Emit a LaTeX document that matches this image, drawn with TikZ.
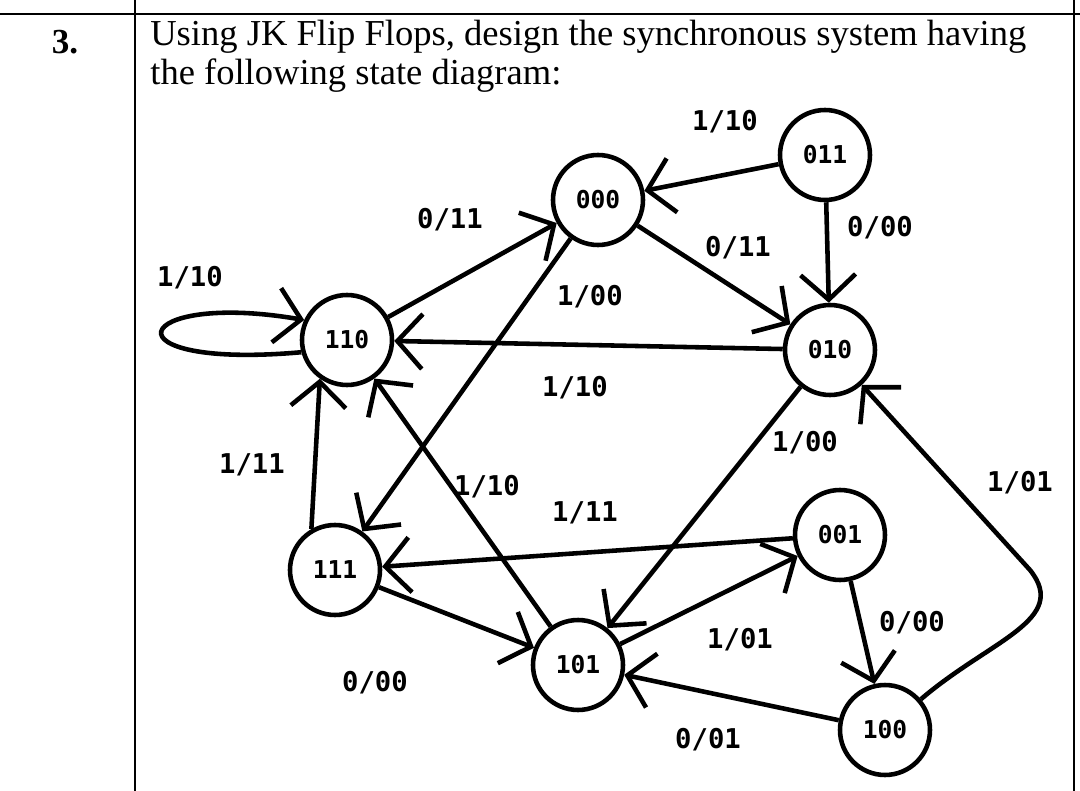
\documentclass[tikz,border=0pt]{standalone}
\usepackage{fontspec}
\setmainfont{Liberation Serif}
\newfontfamily\lbl{DejaVu Sans Mono}
\usetikzlibrary{arrows.meta}
\begin{document}
\begin{tikzpicture}[x=0.02cm,y=-0.02cm,
  st/.style={circle,draw,line width=2.6pt,minimum size=1.8cm,inner sep=0pt,font=\lbl\bfseries\fontsize{14}{14}\selectfont},
  ed/.style={line width=2.6pt,-{Straight Barb[length=5mm,width=11mm,line width=2.6pt]}},
  lb/.style={font=\lbl\bfseries\fontsize{15.5}{15.5}\selectfont,inner sep=1pt}]
\useasboundingbox (0,0) rectangle (1080,791);
\draw[line width=1pt] (0,14) -- (1080,14);
\draw[line width=1pt] (135,0) -- (135,791);
\draw[line width=1pt] (1074,0) -- (1074,791);
\node[font=\bfseries\fontsize{20}{20}\selectfont] (n3) at (65,42) {3.};
\node[anchor=north west,align=left,font=\fontsize{20.8}{22}\selectfont,inner sep=0pt] (hd) at (150,20) {Using JK Flip Flops, design the synchronous system having\\the following state diagram:};
\node[st] (s000) at (598,200) {000};
\node[st] (s011) at (825,155) {011};
\node[st] (s110) at (347,340) {110};
\node[st] (s010) at (830,350) {010};
\node[st] (s111) at (335,570) {111};
\node[st] (s001) at (840,535) {001};
\node[st] (s101) at (578,665) {101};
\node[st] (s100) at (885,730) {100};
\draw[ed] (s011) -- (s000);
\draw[ed] (s000) -- (s010);
\draw[ed] (s011) -- (s010);
\draw[ed] (s110) -- (s000);
\draw[ed] (s110.195) .. controls (100,370) and (130,290) .. (s110.155);
\draw[ed] (s000) -- (s111);
\draw[ed] (s010) -- (s110);
\draw[ed] (s010) -- (s101);
\draw[ed] (s111.120) -- (s110.235);
\draw[ed] (s101) -- (s110);
\draw[ed] (s001) -- (s111);
\draw[ed] (s111) -- (s101);
\draw[ed] (s101) -- (s001);
\draw[ed] (s001) -- (s100);
\draw[ed] (s100) .. controls (990,640) and (1070,620) .. (1030,570) -- (s010);
\draw[ed] (s100) -- (s101);
\node[lb] (l1) at (725,122) {1/10};
\node[lb] (l2) at (738,248) {0/11};
\node[lb] (l3) at (880,228) {0/00};
\node[lb] (l4) at (450,220) {0/11};
\node[lb] (l5) at (190,278) {1/10};
\node[lb] (l6) at (590,297) {1/00};
\node[lb] (l7) at (575,388) {1/10};
\node[lb] (l8) at (805,443) {1/00};
\node[lb] (l9) at (252,465) {1/11};
\node[lb] (l10) at (487,487) {1/10};
\node[lb] (l11) at (585,513) {1/11};
\node[lb] (l12) at (1020,483) {1/01};
\node[lb] (l13) at (375,683) {0/00};
\node[lb] (l14) at (740,640) {1/01};
\node[lb] (l15) at (912,623) {0/00};
\node[lb] (l16) at (708,740) {0/01};
\end{tikzpicture}
\end{document}
